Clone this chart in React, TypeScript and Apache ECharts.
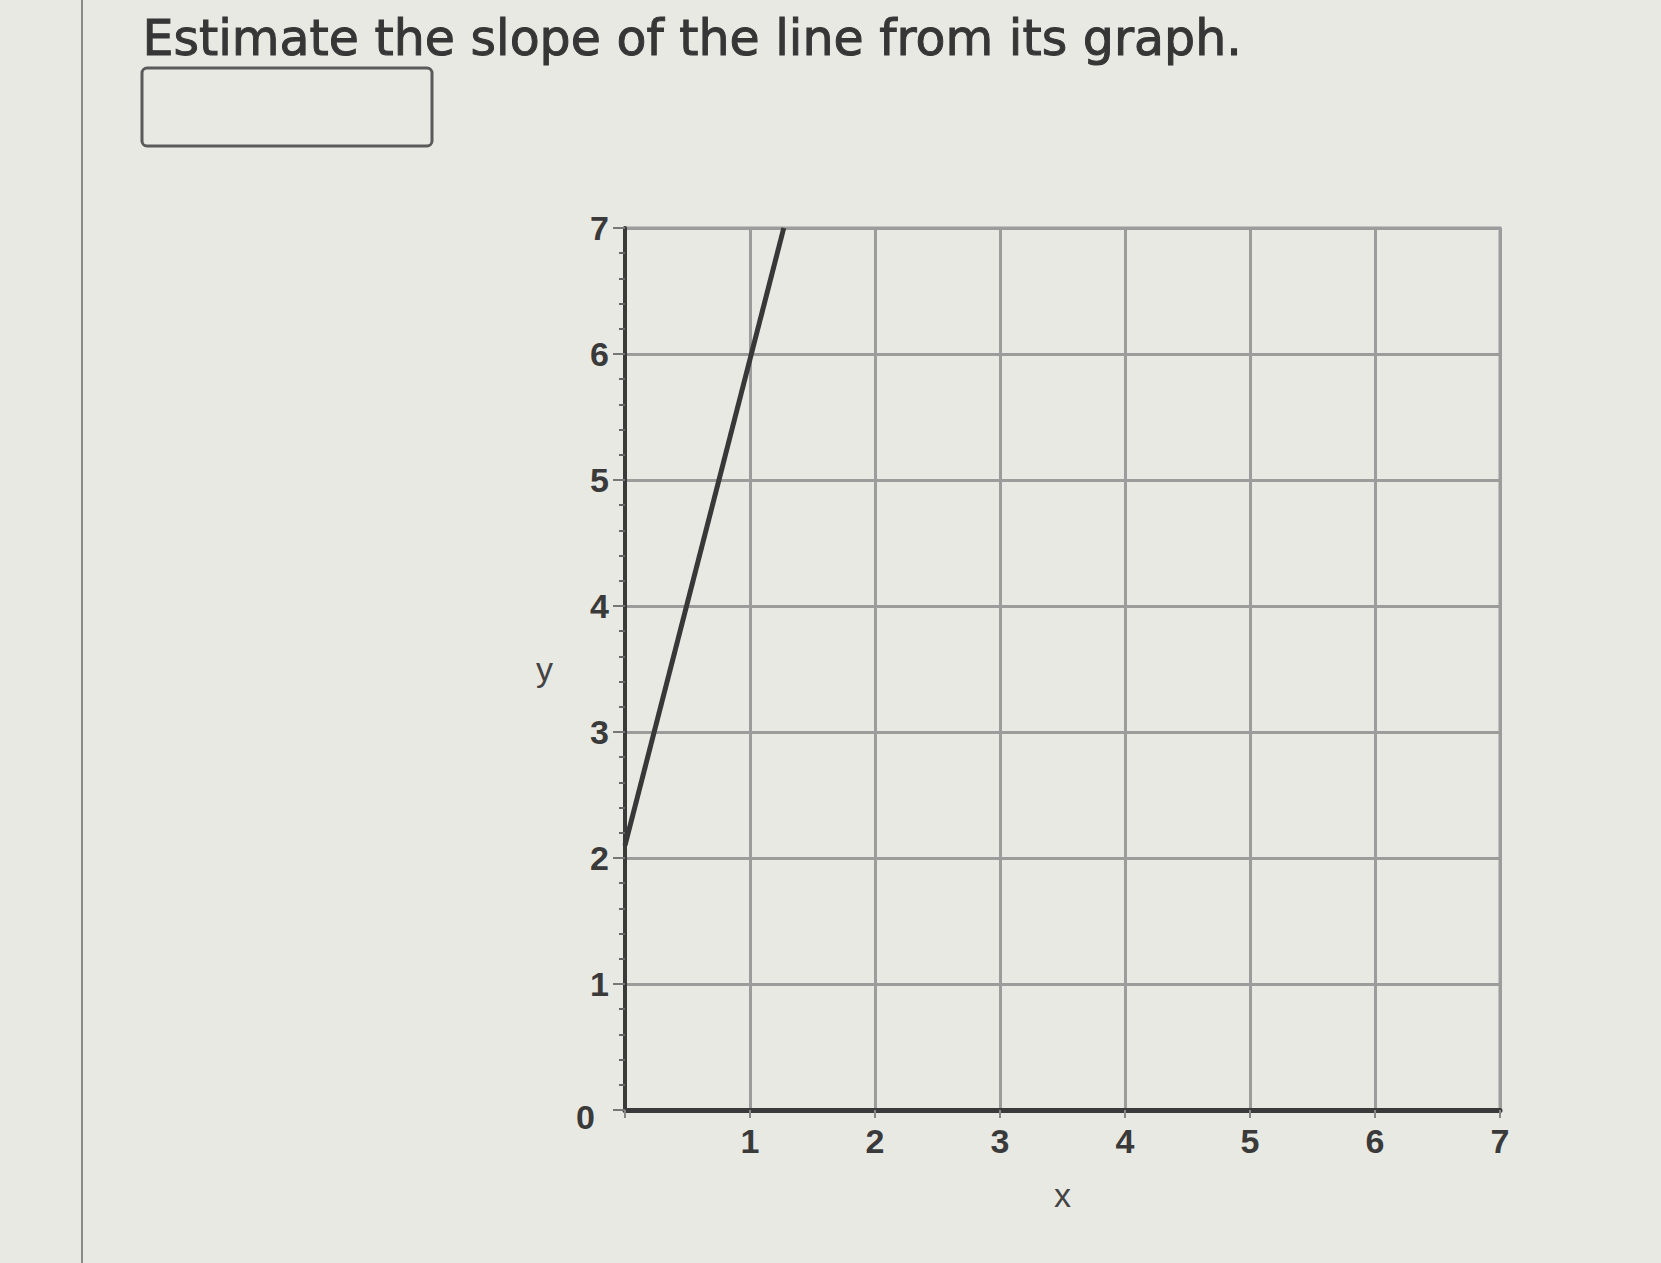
import React, { useEffect, useRef } from "react";
import * as echarts from "echarts";

const xTicks = [0, 1, 2, 3, 4, 5, 6, 7];
const yTicks = [0, 1, 2, 3, 4, 5, 6, 7];
const lineX = [0, 1.27];
const lineY = [2.1, 7];
const title = "Estimate the slope of the line from its graph.";

export default function App() {
  const ref = useRef<HTMLDivElement>(null);
  useEffect(() => {
    if (!ref.current) return;
    const chart = echarts.init(ref.current, undefined, { renderer: "svg" });
    const lineData = lineX.map((x, i) => [x, lineY[i]]);
    chart.setOption({
      animation: false,
      backgroundColor: "#e9e9e4",
      graphic: [
        {
          type: "line",
          shape: { x1: 82, y1: 0, x2: 82, y2: 1263 },
          style: { stroke: "#8a8a8a", lineWidth: 2 },
        },
        {
          type: "text",
          left: 142,
          top: 13,
          style: {
            text: title,
            font: "49px 'DejaVu Sans'",
            fill: "#363636",
            stroke: "#363636",
            lineWidth: 1,
          },
        },
        {
          type: "rect",
          shape: { x: 142, y: 68, width: 290, height: 78, r: 5 },
          style: { fill: "rgba(0,0,0,0)", stroke: "#5a5a5a", lineWidth: 3 },
        },
      ],
      grid: {
        left: 625,
        top: 228,
        width: 875,
        height: 882,
        show: true,
        borderColor: "#9c9c9c",
        borderWidth: 3,
        backgroundColor: "transparent",
      },
      xAxis: {
        type: "value",
        min: xTicks[0],
        max: xTicks[xTicks.length - 1],
        interval: 1,
        name: "x",
        nameLocation: "middle",
        nameGap: 68,
        nameTextStyle: { fontSize: 34, color: "#444", fontFamily: "Liberation Sans" },
        axisLine: { show: true, onZero: false, lineStyle: { color: "#3a3a3a", width: 5 } },
        axisTick: { show: true, length: 8, lineStyle: { color: "#888", width: 2 } },
        axisLabel: {
          margin: 14,
          fontSize: 34,
          fontWeight: "bold",
          color: "#3a3a3a",
          fontFamily: "Liberation Sans",
          formatter: (v: number) => (v === 0 ? "" : String(v)),
        },
        splitLine: { show: true, lineStyle: { color: "#9c9c9c", width: 3 } },
      },
      yAxis: {
        type: "value",
        min: yTicks[0],
        max: yTicks[yTicks.length - 1],
        interval: 1,
        name: "y",
        nameLocation: "middle",
        nameGap: 72,
        nameRotate: 0,
        nameTextStyle: { fontSize: 34, color: "#444", fontFamily: "Liberation Sans" },
        axisLine: { show: true, onZero: false, lineStyle: { color: "#3a3a3a", width: 4 } },
        axisTick: { show: true, length: 12, lineStyle: { color: "#777", width: 2 } },
        minorTick: { show: true, splitNumber: 5, length: 6, lineStyle: { color: "#666", width: 2 } },
        axisLabel: {
          margin: 16,
          fontSize: 34,
          fontWeight: "bold",
          color: "#3a3a3a",
          fontFamily: "Liberation Sans",
          formatter: (v: number) => (v === 0 ? "{z|0}" : String(v)),
          rich: {
            z: {
              fontSize: 34,
              fontWeight: "bold",
              color: "#3a3a3a",
              fontFamily: "Liberation Sans",
              padding: [14, 14, 0, 0],
            },
          },
        },
        splitLine: { show: true, lineStyle: { color: "#9c9c9c", width: 3 } },
      },
      series: [
        {
          type: "line",
          data: lineData,
          showSymbol: false,
          symbol: "none",
          clip: true,
          lineStyle: { color: "#383838", width: 5 },
        },
      ],
    });
    return () => chart.dispose();
  }, []);
  return (
    <div
      ref={ref}
      style={{ position: "fixed", left: 0, top: 0, width: 1661, height: 1263 }}
    />
  );
}
